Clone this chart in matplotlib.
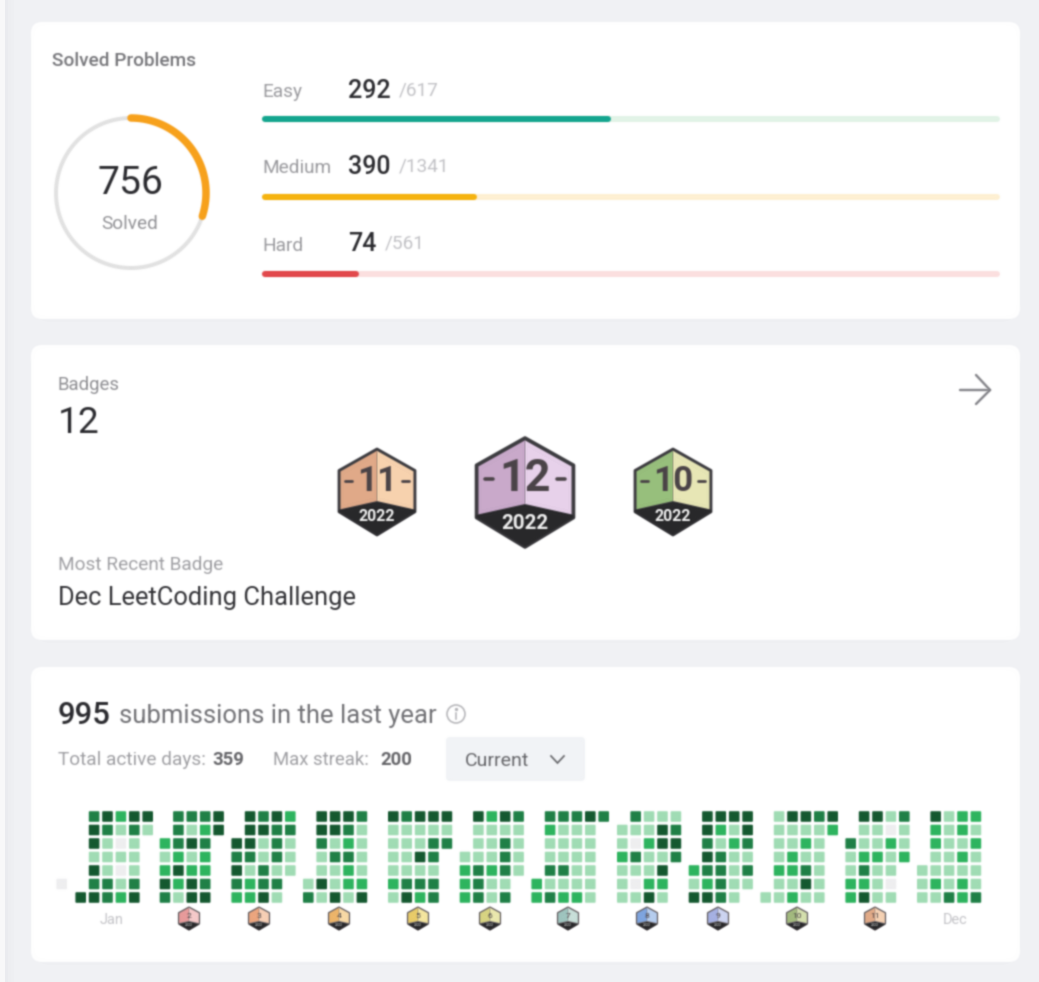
import numpy as np
import matplotlib
matplotlib.use("Agg")
import matplotlib.pyplot as plt
from matplotlib.patches import FancyBboxPatch, Polygon, Circle, Rectangle

plt.rcParams['font.family'] = ['Roboto', 'DejaVu Sans']

# ---------- data ----------
difficulties = ["Easy", "Medium", "Hard"]
solved_counts = [292, 390, 74]
total_counts = [617, 1341, 561]
solved_total = 756
badge_count = 12
recent_badge = "Dec LeetCoding Challenge"
submissions = 995
active_days = 359
max_streak = 200
month_edge_labels = ["Jan", "Dec"]

N = None  # no cell that day
prev_dec = [[N, N, N, N, N, 0, N]]
jan = [[N, N, N, N, N, N, 4], [3, 4, 4, 1, 4, 3, 4], [4, 3, 1, 1, 1, 3, 3],
       [2, 1, 0, 1, 0, 1, 2], [4, 3, 1, 1, 1, 3, 4], [4, 1, N, N, N, N, N]]
feb = [[N, N, 2, 1, 2, 4, 3], [3, 3, 3, 2, 4, 2, 1], [3, 1, 4, 1, 2, 4, 4],
       [3, 2, 3, 2, 2, 3, 4], [4, 4, N, N, N, N, N]]
mar = [[N, N, 4, 3, 4, 3, 2], [4, 4, 4, 3, 1, 2, 2], [3, 4, 1, 1, 3, 3, 4],
       [4, 3, 3, 3, 1, 3, 1], [2, 3, 1, 1, 1, N, N]]
apr = [[N, N, N, N, N, 1, 3], [4, 4, 3, 1, 1, 4, 1], [4, 4, 1, 3, 1, 1, 4],
       [4, 3, 2, 3, 2, 2, 1], [3, 1, 1, 1, 1, 2, 4]]
may = [[4, 1, 1, 1, 1, 2, 1], [3, 1, 1, 1, 1, 3, 4], [4, 1, 1, 4, 1, 3, 2],
       [4, 1, 3, 3, 1, 3, 3], [4, 1, 3, N, N, N, N]]
jun = [[N, N, N, 1, 2, 2, 2], [4, 1, 1, 1, 3, 3, 3], [2, 1, 1, 1, 2, 1, 1],
       [4, 1, 3, 3, 3, 1, 3], [3, 1, 1, 1, 1, N, N]]
jul = [[N, N, N, N, N, 2, 2], [3, 2, 1, 1, 3, 1, 3], [3, 1, 1, 1, 3, 1, 2],
       [3, 1, 1, 1, 1, 1, 2], [4, 1, 1, 1, 1, 1, 1], [3, N, N, N, N, N, N]]
aug = [[N, 1, 1, 2, 1, 1, 1], [3, 1, 0, 3, 1, 0, 1], [1, 1, 2, 1, 1, 2, 4],
       [1, 4, 4, 1, 4, 2, 1], [1, 3, 4, 3, N, N, N]]
sep = [[N, N, N, N, 2, 1, 4], [4, 4, 3, 4, 3, 2, 4], [4, 2, 1, 3, 3, 3, 3],
       [4, 1, 2, 1, 1, 1, 1], [4, 4, 3, 1, 3, 1, N]]
oct_ = [[N, N, N, N, N, N, 1], [1, 1, 1, 1, 2, 1, 1], [4, 1, 1, 2, 2, 1, 2],
        [4, 1, 2, 1, 3, 4, 1], [3, 1, 1, 1, 1, 1, 1], [4, 2, N, N, N, N, N]]
nov = [[N, N, 3, 1, 1, 2, 2], [4, 1, 1, 2, 3, 2, 4], [4, 1, 1, 2, 1, 1, 1],
       [1, 0, 2, 1, 1, 0, 1], [3, 1, 1, 2, N, N, N]]
dec = [[N, N, N, N, 1, 1, 1], [4, 2, 2, 1, 1, 2, 1], [1, 1, 1, 1, 1, 1, 3],
       [2, 2, 1, 2, 1, 2, 2], [2, 1, 2, 1, 1, 1, 3]]
month_weeks = [prev_dec, jan, feb, mar, apr, may, jun, jul, aug, sep, oct_, nov, dec]

big_badge_labels = ["11", "12", "10"]
big_badge_year = "2022"
small_badge_labels = ["2", "3", "4", "5", "6", "7", "8", "9", "10", "11"]

# ---------- style / layout ----------
W, H = 1039, 982
PAGE = "#f0f1f4"
TXT_DARK = "#2b2b2f"
LEVEL_COL = {0: "#eeeef0", 1: "#a0dcb4", 2: "#2db45e", 3: "#1f8046", 4: "#14582f"}
month_x0 = [61.7, 80.7, 165, 236.7, 308.3, 393.3, 465, 536.7, 622.3, 694, 765.7, 850.7, 922.3]
small_badge_x = [189, 259, 339, 418, 490, 568, 647, 718, 797, 875]
small_badge_cols = [("#e89c9c", "#f6caca"), ("#eda67f", "#f8d0b6"), ("#eeb56b", "#f9daa6"),
                    ("#e9cc6a", "#f6e7a0"), ("#d8d483", "#ece9ae"), ("#9fc5bf", "#c9e0da"),
                    ("#7fa5df", "#b6cef0"), ("#a6b1e3", "#ced5f2"), ("#a4bb7f", "#d5e0ae"),
                    ("#e2ab88", "#f6d2b4")]
bar_cols = ["#13a58f", "#f5b30f", "#e2484b"]
track_cols = ["#e2f3e7", "#fef0d2", "#fbdfdf"]
bar_y = [118.5, 196.5, 273.5]
label_y = [90, 166, 244]
num_y = [88, 164, 241]
tot_x = [399, 399, 385]


def px(v):
    return v * 0.72


def soften(im, dpi, sigma=0.75):
    """Slight gaussian softening, to match the soft look of the screenshot."""
    pad = 3
    a = np.pad(im, [(pad, pad), (pad, pad), (0, 0)], mode="constant")
    a = a.copy()
    a[..., :3] *= a[..., 3:4]
    k = np.exp(-0.5 * (np.arange(-pad, pad + 1) / sigma) ** 2)
    k /= k.sum()
    for axis in (0, 1):
        a = np.apply_along_axis(lambda m: np.convolve(m, k, mode="same"), axis, a)
    al = np.clip(a[..., 3:4], 1e-6, None)
    a[..., :3] = np.clip(a[..., :3] / al, 0, 1)
    return a, -pad, -pad


fig = plt.figure(figsize=(W / 100, H / 100), dpi=100, facecolor=PAGE)
ax = fig.add_axes([0, 0, 1, 1])
ax.set_xlim(0, W)
ax.set_ylim(H, 0)
ax.axis("off")


def text(x, y, s, size, color=TXT_DARK, weight="normal", ha="left"):
    ax.text(x, y, s, fontsize=px(size), color=color, weight=weight, ha=ha, va="center_baseline", zorder=6)


# left page margin
ax.add_patch(Rectangle((0, 0), 5, H, fc="#f8f8f9", ec="none", zorder=0))
for i, a in enumerate([0.25, 0.15, 0.08]):
    ax.add_patch(Rectangle((5 + i * 3, 0), 3, H, fc="#dcdde2", ec="none", alpha=a, zorder=0.5))


def card(x0, y0, x1, y1):
    R = 11
    for g, a in zip([12, 9, 6, 4, 2], [0.012, 0.016, 0.022, 0.03, 0.04]):
        ax.add_patch(FancyBboxPatch((x0 + R - g, y0 + R - g + 2), x1 - x0 - 2 * R + 2 * g, y1 - y0 - 2 * R + 2 * g,
                                    boxstyle="round,pad=0,rounding_size=%g" % (R + g),
                                    fc="#50566a", ec="none", alpha=a, zorder=1))
    ax.add_patch(FancyBboxPatch((x0 + R, y0 + R), x1 - x0 - 2 * R, y1 - y0 - 2 * R,
                                boxstyle="round,pad=%d" % R, fc="white", ec="none", zorder=2))


card(31, 22, 1020, 319)
card(31, 345, 1020, 640)
card(31, 667, 1020, 962)


def hex_pts(cx, cy, hw, hh):
    sh = hh * 0.50
    return [(cx, cy - hh), (cx + hw, cy - sh), (cx + hw, cy + sh * 0.92), (cx, cy + hh),
            (cx - hw, cy + sh * 0.92), (cx - hw, cy - sh)]


def badge(cx, cy, hw, hh, c_l, c_r, label, year, lab_size, year_size, lw, dashes=True, edge="#3d3c40"):
    pts = hex_pts(cx, cy, hw, hh)
    mid = cy + hh * 0.21
    side = cy + hh * 0.40
    ax.add_patch(Polygon(pts, closed=True, fc=edge, ec=edge, lw=px(lw), joinstyle="round", zorder=3))
    ax.add_patch(Polygon([(cx - hw, side + 1), (cx, mid + 1), (cx + hw, side + 1), (cx + hw, cy + hh * 0.46),
                          (cx, cy + hh), (cx - hw, cy + hh * 0.46)],
                         closed=True, fc="#29292b", ec="none", zorder=3.5))
    ins = lw * 0.55
    top_y = cy - hh + ins * 1.2
    sh_y = cy - hh * 0.50 + ins * 0.6
    ax.add_patch(Polygon([(cx, top_y), (cx, mid), (cx - hw + ins, side), (cx - hw + ins, sh_y)],
                         closed=True, fc=c_l, ec="none", zorder=4))
    ax.add_patch(Polygon([(cx, top_y), (cx, mid), (cx + hw - ins, side), (cx + hw - ins, sh_y)],
                         closed=True, fc=c_r, ec="none", zorder=4))
    ly = cy - hh * 0.25
    ax.text(cx, ly, label, fontsize=px(lab_size), color="#4a4347", ha="center", va="center",
            weight="bold" if dashes else "normal", zorder=5,
            family=["Liberation Sans Narrow", "Roboto"])
    if dashes:
        d = hw * 0.75
        for sgn in (-1, 1):
            ax.plot([cx + sgn * d - hw * 0.08, cx + sgn * d + hw * 0.08], [ly, ly],
                    color="#4a4347", lw=px(lw * 1.0), solid_capstyle="round", zorder=5)
    if year:
        ax.text(cx, cy + hh * 0.56, year, fontsize=px(year_size), color="#f0f0f0", ha="center",
                va="center", weight="bold", zorder=5)


# ---------- card 1: solved problems ----------
text(52, 59, "Solved Problems", 19, "#77777b", weight="medium")
cx, cy, rad = 131, 193, 75
t = np.linspace(0, 2 * np.pi, 240)
ax.plot(cx + rad * np.sin(t), cy - rad * np.cos(t), color="#e2e2e2", lw=px(4), zorder=3)
frac = solved_total / sum(total_counts)
t = np.linspace(0, 2 * np.pi * frac, 120)
ax.plot(cx + rad * np.sin(t), cy - rad * np.cos(t), color="#f8a11b", lw=px(7.5), zorder=4,
        solid_capstyle="round")
text(130, 179, str(solved_total), 39, TXT_DARK, ha="center")
text(130, 222, "Solved", 19, "#929296", ha="center")

BX0, BX1 = 262, 1000
for i, d in enumerate(difficulties):
    text(262, label_y[i], d, 19, "#9a9a9e")
    text(348, num_y[i], str(solved_counts[i]), 25, TXT_DARK, weight="medium")
    text(tot_x[i], num_y[i], "/%d" % total_counts[i], 19, "#c2c2c6")
    y = bar_y[i]
    ax.plot([BX0 + 3, BX1 - 3], [y, y], color=track_cols[i], lw=px(6), solid_capstyle="round", zorder=3)
    x = BX0 + (BX1 - BX0) * solved_counts[i] / total_counts[i]
    ax.plot([BX0 + 3, x - 3], [y, y], color=bar_cols[i], lw=px(6), solid_capstyle="round", zorder=4)

# ---------- card 2: badges ----------
text(57.5, 383, "Badges", 18.5, "#8f8f93")
text(57.5, 419, str(badge_count), 37, TXT_DARK)
text(58, 563, "Most Recent Badge", 19, "#a0a0a4")
text(58, 595, recent_badge, 25.5, "#333337")
badge(377, 492, 38, 43, "#e0a988", "#f7d2ae", big_badge_labels[0], big_badge_year, 35, 16, 2.8)
badge(525, 492.5, 48.5, 54.5, "#c9a9cb", "#e7d1ea", big_badge_labels[1], big_badge_year, 45, 20.5, 3.6)
badge(673, 492, 38, 43, "#97bf7c", "#e7e6b5", big_badge_labels[2], big_badge_year, 35, 16, 2.8)
ax.plot([960, 989], [390, 390], color="#85858a", lw=px(2.4), zorder=5, solid_capstyle="round")
ax.plot([976, 990, 976], [375, 390, 404], color="#85858a", lw=px(2.4), zorder=5,
        solid_capstyle="round", solid_joinstyle="miter")

# ---------- card 3: submissions ----------
text(58, 713, str(submissions), 31, TXT_DARK, weight="medium")
text(119, 714, "submissions in the last year", 25.6, "#727276")
ax.add_patch(Circle((456, 714), 9, fc="none", ec="#b5b5b9", lw=px(1.6), zorder=4))
ax.plot([456, 456], [712.5, 719], color="#b5b5b9", lw=px(1.6), zorder=4)
ax.plot([456], [708.5], marker="o", ms=px(2), color="#b5b5b9", zorder=4)
text(58, 758, "Total active days:", 19, "#a0a0a4")
text(212, 758, str(active_days), 18.5, "#66666a", weight="bold")
text(273, 758, "Max streak:", 18.5, "#a0a0a4")
text(380, 758, str(max_streak), 18.5, "#66666a", weight="bold")
ax.add_patch(FancyBboxPatch((450, 741), 131, 36, boxstyle="round,pad=4", fc="#f1f3f6", ec="none", zorder=3))
text(465, 759, "Current", 19.5, "#66666a")
ax.plot([551, 557.5, 564], [756, 763, 756], color="#66666a", lw=px(1.7), zorder=5, solid_joinstyle="miter")

# ---------- heatmap ----------
PITCH_X, PITCH_Y, SIZE = 13.4, 13.5, 10.6
for x0, weeks in zip(month_x0, month_weeks):
    for w, week in enumerate(weeks):
        for r, lvl in enumerate(week):
            if lvl is None:
                continue
            xc = x0 + w * PITCH_X
            yc = 816.5 + r * PITCH_Y
            ax.add_patch(FancyBboxPatch((xc - SIZE / 2 + 1, yc - SIZE / 2 + 1), SIZE - 2, SIZE - 2,
                                        boxstyle="round,pad=1", fc=LEVEL_COL[lvl], ec="none", zorder=4))

text(112, 918, month_edge_labels[0], 14.5, "#c4c4c8", ha="center")
text(955, 918, month_edge_labels[1], 14.5, "#c4c4c8", ha="center")
for xc, lab, (cl, cr) in zip(small_badge_x, small_badge_labels, small_badge_cols):
    badge(xc, 918.5, 10.5, 11.5, cl, cr, lab, "", 8.5, 4, 1.2, dashes=False, edge="#6a6568")
    ax.text(xc, 925, big_badge_year, fontsize=px(3.5), color="#e8e8e8", ha="center", va="center", zorder=6)

for art in ax.get_children():
    if art.get_zorder() >= 2 and art is not ax.patch \
            and isinstance(art, (matplotlib.patches.Patch, matplotlib.lines.Line2D, matplotlib.text.Text)):
        art.set_agg_filter(soften)

fig.savefig("out.png", dpi=100, facecolor=PAGE)
